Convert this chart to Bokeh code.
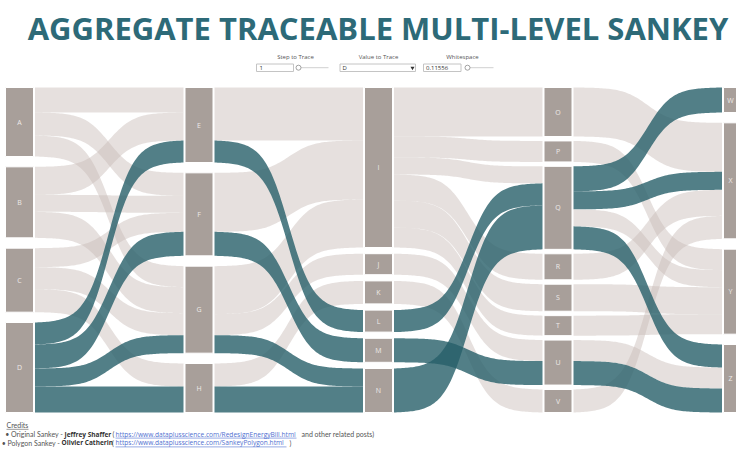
import numpy as np
from bokeh.plotting import figure
from bokeh.models import Range1d
from bokeh.core.properties import value
from bokeh.embed import file_html
from bokeh.resources import INLINE

# ---------------- data ----------------
TITLE = "AGGREGATE TRACEABLE MULTI-LEVEL SANKEY"

level_nodes = [
    ["A", "B", "C", "D"],
    ["E", "F", "G", "H"],
    ["I", "J", "K", "L", "M", "N"],
    ["O", "P", "Q", "R", "S", "T", "U", "V"],
    ["W", "X", "Y", "Z"],
]

flow_source = ["A", "A", "A", "B", "B", "B", "C", "C", "C", "D", "D", "D", "D",
               "E", "E", "F", "F", "G", "G", "G", "H", "H",
               "I", "I", "I", "I", "I", "I", "J", "K", "L", "M", "N",
               "O", "P", "Q", "Q", "Q", "Q", "R", "S", "T", "U", "U", "V"]
flow_target = ["E", "F", "G", "E", "F", "G", "F", "G", "H", "E", "F", "G", "H",
               "I", "L", "I", "M", "I", "J", "N", "K", "N",
               "O", "P", "Q", "R", "S", "T", "U", "V", "Q", "U", "Q",
               "X", "Y", "W", "X", "Y", "Z", "X", "Y", "Y", "Z", "Z", "X"]
flow_value = [25, 23, 21, 28, 17, 26, 19, 22, 23, 22, 24, 18, 26,
              53, 22, 59, 24, 48, 21, 18, 23, 26,
              49, 21, 17, 26, 27, 20, 21, 23, 22, 24, 44,
              49, 21, 25, 18, 17, 23, 26, 27, 20, 21, 24, 23]
flow_traced = [0, 0, 0, 0, 0, 0, 0, 0, 0, 1, 1, 1, 1,
               0, 1, 0, 1, 0, 0, 1, 0, 1,
               0, 0, 0, 0, 0, 0, 0, 0, 1, 1, 1,
               0, 0, 1, 1, 0, 1, 0, 0, 0, 0, 1, 0]

control_labels = ["Step to Trace", "Value to Trace", "Whitespace"]
control_values = ["1", "D", "0.11556"]

credits_head = "Credits"
credit_prefix = ["\u2022 Original Sankey -", "\u2022 Polygon Sankey -"]
credit_author = ["Jeffrey Shaffer", "Olivier Catherin"]
credit_url = ["https://www.dataplusscience.com/RedesignEnergyBill.html",
              "https://www.dataplusscience.com/SankeyPolygon.html"]
credit_tail = ["and other related posts)", ")"]

# ---------------- layout / style ----------------
W, H = 736, 454
TOP, BOTTOM = 87.0, 412.0
X0, XSTEP, NODE_W = 5.0, 179.5, 28.0
GREY_LINK = "#c8bab5"
TEAL_LINK = "#275f69"
NODE_COL = "#a89f9a"
TITLE_COL = "#2d6a78"
TXT = "#555555"
URL_COL = "#4f6fd0"
FONT = "Open Sans"
FONT2 = "Lato"

level_of, order_of = {}, {}
for li, names in enumerate(level_nodes):
    for i, n in enumerate(names):
        level_of[n] = li
        order_of[n] = i

n_in, n_out = {}, {}
for s, t, v in zip(flow_source, flow_target, flow_value):
    n_out[s] = n_out.get(s, 0) + v
    n_in[t] = n_in.get(t, 0) + v
node_val = {n: max(n_in.get(n, 0), n_out.get(n, 0)) for n in level_of}

node_x, node_top, node_bot = {}, {}, {}
for li, names in enumerate(level_nodes):
    total = sum(node_val[n] for n in names)
    gap = (BOTTOM - TOP - total) / (len(names) - 1)
    y = TOP
    for n in names:
        node_x[n] = X0 + li * XSTEP
        node_top[n] = y
        node_bot[n] = y + node_val[n]
        y += node_val[n] + gap

idx = list(range(len(flow_source)))
src_y = [0.0] * len(idx)
tgt_y = [0.0] * len(idx)
off = dict(node_top)
for i in sorted(idx, key=lambda i: (order_of[flow_source[i]], order_of[flow_target[i]], flow_traced[i])):
    s = flow_source[i]
    src_y[i] = off[s]
    off[s] += flow_value[i]
off = dict(node_top)
for i in sorted(idx, key=lambda i: (order_of[flow_target[i]], order_of[flow_source[i]], flow_traced[i])):
    t = flow_target[i]
    tgt_y[i] = off[t]
    off[t] += flow_value[i]

tt = np.linspace(-6, 6, 90)
sig = 1.0 / (1.0 + np.exp(-tt))
sig = (sig - sig[0]) / (sig[-1] - sig[0])
frac = np.linspace(0, 1, 90)

links = {0: ([], []), 1: ([], [])}
for i in idx:
    s, t, v = flow_source[i], flow_target[i], flow_value[i]
    xa = node_x[s] + NODE_W + 1.5
    xb = node_x[t] - 1.5
    xs = xa + (xb - xa) * frac
    ytop = src_y[i] + (tgt_y[i] - src_y[i]) * sig
    ybot = ytop + v
    links[flow_traced[i]][0].append(np.concatenate([xs, xs[::-1]]).tolist())
    links[flow_traced[i]][1].append(np.concatenate([ytop, ybot[::-1]]).tolist())

# ---------------- figure ----------------
p = figure(width=W, height=H, x_range=Range1d(0, W), y_range=Range1d(H, 0),
           output_backend="svg", toolbar_location=None, min_border=0,
           x_axis_location=None, y_axis_location=None)
p.grid.visible = False
p.outline_line_color = None
p.background_fill_color = "white"
p.border_fill_color = "white"

p.patches(xs=links[0][0], ys=links[0][1], fill_color=GREY_LINK, fill_alpha=0.45, line_color=None)
p.patches(xs=links[1][0], ys=links[1][1], fill_color=TEAL_LINK, fill_alpha=0.8, line_color=None)

names_all = [n for lvl in level_nodes for n in lvl]
p.quad(left=[node_x[n] for n in names_all], right=[node_x[n] + NODE_W for n in names_all],
       top=[node_top[n] for n in names_all], bottom=[node_bot[n] for n in names_all],
       fill_color=NODE_COL, line_color="white", line_width=1)
# labels: the last column is cut by the window, so its labels sit in the visible strip
lab_x = [min(node_x[n] + NODE_W / 2, W - 6) for n in names_all]
p.text(x=lab_x, y=[(node_top[n] + node_bot[n]) / 2 for n in names_all],
       text=names_all, text_align="center", text_baseline="middle",
       text_font=value(FONT), text_font_size="7px", text_color="#eeeae8")

# title
p.text(x=[377.5], y=[27.5], text=[TITLE], text_align="center", text_baseline="middle",
       text_font=value(FONT), text_font_style="bold", text_font_size="31px", text_color=TITLE_COL)

# parameter controls
p.text(x=[295, 378, 462], y=[56.2] * 3, text=control_labels, text_align="center",
       text_baseline="middle", text_font=value(FONT), text_font_size="6px", text_color=TXT)
p.quad(left=[256, 339.5, 423], right=[293, 415, 460.5], top=[63.5] * 3, bottom=[71] * 3,
       fill_color="white", line_color="#c4c4c4", line_width=1)
p.text(x=[259, 342, 425.5], y=[67.3] * 3, text=control_values, text_align="left",
       text_baseline="middle", text_font=value(FONT), text_font_size="6px", text_color="#333333")
p.segment(x0=[300, 469], y0=[67.2, 67.2], x1=[328, 493], y1=[67.2, 67.2], line_color="#d0d0d0", line_width=1)
p.scatter(x=[298, 467], y=[67.2, 67.2], marker="circle", size=5, fill_color="white",
          line_color="#8a8a8a", line_width=0.8)
p.scatter(x=[412], y=[67.5], marker="inverted_triangle", size=4, fill_color="#333333", line_color=None)

# credits (text_baseline "middle": y = baseline - 0.39 * font size)
p.text(x=[6], y=[424.3], text=[credits_head], text_align="left", text_baseline="middle",
       text_font=value(FONT2), text_font_size="7px", text_color=TXT)
p.segment(x0=[6], y0=[428.8], x1=[28], y1=[428.8], line_color=TXT, line_width=0.6)
base = [436.2, 445.0]
mid = [b - 2.7 for b in base]
p.text(x=[62.5, 59.5], y=mid, text=credit_prefix, text_align="right", text_baseline="middle",
       text_font=value(FONT2), text_font_size="7px", text_color=TXT)
p.text(x=[64, 61], y=mid, text=credit_author, text_align="left", text_baseline="middle",
       text_font=value(FONT), text_font_style="bold", text_font_size="6.5px", text_color="#333333")
p.text(x=[112, 111.5], y=mid, text=["(", "("], text_align="left", text_baseline="middle",
       text_font=value(FONT2), text_font_size="7px", text_color=TXT)
p.text(x=[115, 115], y=mid, text=credit_url, text_align="left", text_baseline="middle",
       text_font=value(FONT), text_font_size="6.6px", text_color=URL_COL)
p.segment(x0=[115, 115], y0=[b + 1.4 for b in base], x1=[296, 286], y1=[b + 1.4 for b in base],
          line_color=URL_COL, line_width=0.6)
p.text(x=[301, 289], y=mid, text=credit_tail, text_align="left", text_baseline="middle",
       text_font=value(FONT2), text_font_size="7px", text_color=TXT)

open("out.html", "w").write(file_html(p, INLINE))
